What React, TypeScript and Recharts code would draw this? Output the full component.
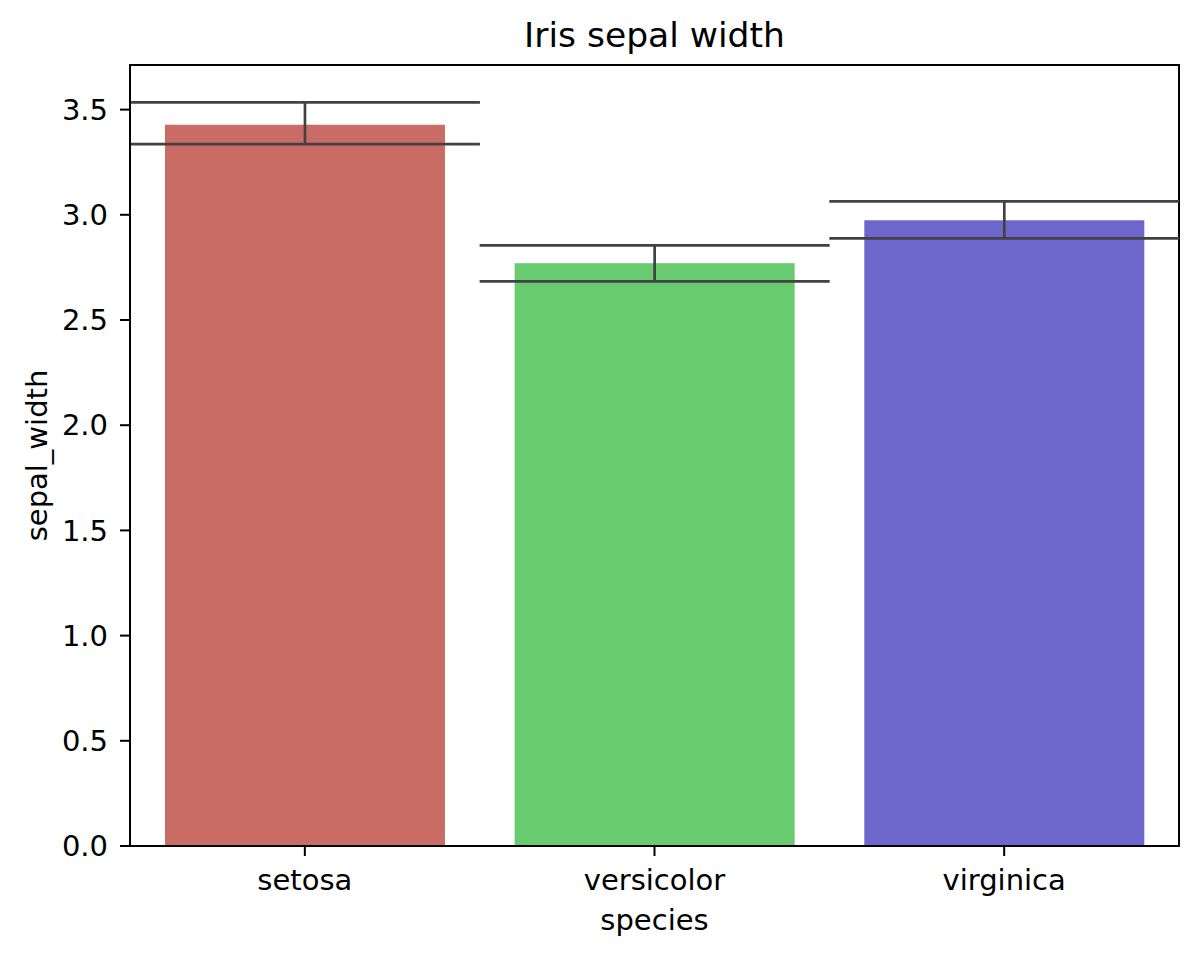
import { BarChart, Bar, XAxis, YAxis, Cell, Label, ReferenceArea } from 'recharts';

// ── Data ──────────────────────────────────────────────────────────────────────

const SPECIES = ['setosa', 'versicolor', 'virginica'];
const MEANS = [3.428, 2.77, 2.974];
const CI_LOW = [3.336, 2.684, 2.888];
const CI_HIGH = [3.534, 2.855, 3.064];
const COLORS = ['rgb(202,108,102)', 'rgb(104,203,111)', 'rgb(110,103,203)'];
const Y_TICKS = [0, 0.5, 1, 1.5, 2, 2.5, 3, 3.5];
const Y_MAX = 3.712;

const data = SPECIES.map((species, i) => ({
  species,
  mean: MEANS[i],
  lo: CI_LOW[i],
  hi: CI_HIGH[i],
}));

const FONT = '"DejaVu Sans", sans-serif';
const FS = 29;
const ERR = '#424242';

// ── Bar with a confidence interval drawn over it ──────────────────────────────

function BarWithCI(props: any) {
  const { x, y, width, height, fill, payload } = props;
  const base = y + height;
  const perUnit = height / payload.mean;
  const yLo = base - payload.lo * perUnit;
  const yHi = base - payload.hi * perUnit;
  const pad = width * 0.125; // caps span the whole category band
  const cx = x + width / 2;
  return (
    <g>
      <rect x={x} y={y} width={width} height={height} fill={fill} />
      <line x1={cx} x2={cx} y1={yLo} y2={yHi} stroke={ERR} strokeWidth={2.7} />
      <line x1={x - pad} x2={x + width + pad} y1={yLo} y2={yLo} stroke={ERR} strokeWidth={2.7} />
      <line x1={x - pad} x2={x + width + pad} y1={yHi} y2={yHi} stroke={ERR} strokeWidth={2.7} />
    </g>
  );
}

// ── Component ─────────────────────────────────────────────────────────────────

export default function App() {
  const tick = { fill: '#000', fontSize: FS, fontFamily: FONT };
  return (
    <div style={{ position: 'relative', width: 1200, height: 959, margin: -8, fontFamily: FONT }}>
      <div
        style={{
          position: 'absolute',
          top: 17.5,
          left: 130,
          width: 1049,
          textAlign: 'center',
          fontSize: 34.5,
          lineHeight: 1,
          color: '#000',
        }}
      >
        Iris sepal width
      </div>
      <BarChart
        width={1200}
        height={959}
        data={data}
        margin={{ top: 65, right: 21, bottom: 0, left: 0 }}
        barCategoryGap="10%"
      >
        <XAxis
          dataKey="species"
          height={113}
          tick={tick}
          tickSize={10}
          tickMargin={13}
          axisLine={{ stroke: '#000', strokeWidth: 2 }}
          tickLine={{ stroke: '#000', strokeWidth: 2 }}
        >
          <Label
            value="species"
            position="insideBottom"
            offset={29}
            style={{ fill: '#000', fontSize: FS, fontFamily: FONT }}
          />
        </XAxis>
        <YAxis
          width={130}
          domain={[0, Y_MAX]}
          ticks={Y_TICKS}
          tickFormatter={(v: number) => v.toFixed(1)}
          tick={tick}
          tickSize={10}
          tickMargin={12}
          axisLine={{ stroke: '#000', strokeWidth: 2 }}
          tickLine={{ stroke: '#000', strokeWidth: 2 }}
        >
          <Label
            value="sepal_width"
            angle={-90}
            position="insideLeft"
            offset={37}
            style={{ fill: '#000', fontSize: FS, fontFamily: FONT, textAnchor: 'middle' }}
          />
        </YAxis>
        <Bar dataKey="mean" shape={BarWithCI} isAnimationActive={false}>
          {data.map((d, i) => (
            <Cell key={d.species} fill={COLORS[i]} />
          ))}
        </Bar>
        {/* full frame around the plot area */}
        <ReferenceArea
          y1={0}
          y2={Y_MAX}
          fill="none"
          fillOpacity={0}
          stroke="#000"
          strokeWidth={2}
          ifOverflow="visible"
        />
      </BarChart>
    </div>
  );
}
